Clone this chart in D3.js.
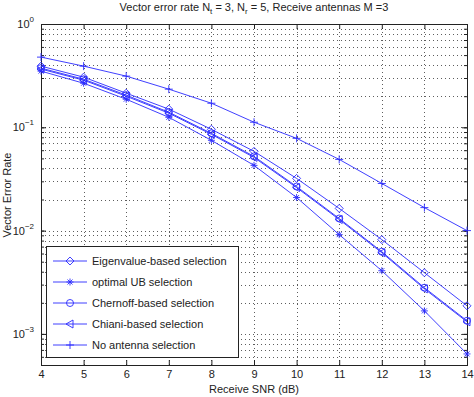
<!DOCTYPE html>
<html><head><meta charset="utf-8">
<script src="https://cdn.jsdelivr.net/npm/d3@7"></script>
<style>body{margin:0;background:#fff}svg{display:block}text{font-family:"Liberation Sans",Arial,sans-serif;fill:#222}</style>
</head><body><svg id="c" width="474" height="397"></svg>
<script>
const snr = [4,5,6,7,8,9,10,11,12,13,14];
const eigenvalue = [0.391,0.306,0.214,0.150,0.0957,0.0585,0.0320,0.0164,0.00818,0.00391,0.00187];
const optimalUB  = [0.350,0.267,0.187,0.125,0.0748,0.0428,0.0209,0.00914,0.00409,0.00167,0.00064];
const chernoff   = [0.374,0.292,0.205,0.140,0.0874,0.0523,0.0267,0.0131,0.00625,0.00280,0.00134];
const chiani     = [0.366,0.286,0.200,0.137,0.0855,0.0511,0.0261,0.0128,0.00611,0.00273,0.00131];
const noSel      = [0.478,0.391,0.313,0.234,0.171,0.112,0.0782,0.0489,0.0286,0.0167,0.0100];
const seriesNames = ["Eigenvalue-based selection","optimal UB selection","Chernoff-based selection","Chiani-based selection","No antenna selection"];
const markers = ["diamond","star","circle","triangle","plus"];
const xTicks = [4,5,6,7,8,9,10,11,12,13,14];
const yMajor = [1,0.1,0.01,0.001];

const series = [eigenvalue, optimalUB, chernoff, chiani, noSel];
const svg = d3.select("#c");
const L=41, R=467, T=24, B=365;
const x = d3.scaleLinear().domain([4,14]).range([L,R]);
const y = d3.scaleLog().domain([5e-4,1]).range([B,T]);
const blue = "#2a2aff";

const yMinor = [];
for (let e=-4; e<0; e++) for (let m=1; m<10; m++){const v=m*Math.pow(10,e); if(v>=5e-4 && v<=1) yMinor.push(v);}

const g = svg.append("g");
g.selectAll(".gy").data(yMinor).enter().append("line")
  .attr("x1",L).attr("x2",R).attr("y1",d=>Math.round(y(d))+0.5).attr("y2",d=>Math.round(y(d))+0.5)
  .attr("stroke","#333").attr("stroke-width",0.8).attr("stroke-dasharray","1,3");
g.selectAll(".gx").data(xTicks.slice(1,-1)).enter().append("line")
  .attr("y1",T).attr("y2",B).attr("x1",d=>Math.round(x(d))+0.5).attr("x2",d=>Math.round(x(d))+0.5)
  .attr("stroke","#333").attr("stroke-width",0.8).attr("stroke-dasharray","1,3");

const xb = d3.axisBottom(x).tickValues(xTicks).tickSize(-5).tickPadding(5).tickFormat(d3.format("d"));
const xt = d3.axisTop(x).tickValues(xTicks).tickSize(-5).tickFormat("");
const yl = d3.axisLeft(y).tickValues(yMajor).tickSize(-5).tickFormat("");
const yr = d3.axisRight(y).tickValues(yMajor).tickSize(-5).tickFormat("");
const ylm = d3.axisLeft(y).tickValues(yMinor).tickSize(-3).tickFormat("");
const yrm = d3.axisRight(y).tickValues(yMinor).tickSize(-3).tickFormat("");
function style(sel){sel.selectAll("path").attr("stroke","#222").attr("stroke-width",1);sel.selectAll("line").attr("stroke","#222");sel.selectAll("text").style("font-size","11px").attr("fill","#222");}
style(svg.append("g").attr("transform",`translate(0,${B})`).call(xb));
style(svg.append("g").attr("transform",`translate(0,${T})`).call(xt));
style(svg.append("g").attr("transform",`translate(${L},0)`).call(yl));
style(svg.append("g").attr("transform",`translate(${R},0)`).call(yr));
style(svg.append("g").attr("transform",`translate(${L},0)`).call(ylm));
style(svg.append("g").attr("transform",`translate(${R},0)`).call(yrm));

yMajor.forEach(v=>{
  const e=Math.round(Math.log10(v));
  const t=svg.append("text").attr("x",34).attr("y",y(v)+4).attr("text-anchor","end").style("font-size","11px");
  t.append("tspan").text("10");
  t.append("tspan").attr("dy",-6).style("font-size","8px").text(String(e).replace("-","\u2212"));
});

const line = d3.line().x((d,i)=>x(snr[i])).y(d=>y(d));
series.forEach(s=>{
  svg.append("path").datum(s).attr("d",line).attr("fill","none").attr("stroke",blue).attr("stroke-width",0.9);
});

function marker(sel, type, cx, cy){
  const gm = sel.append("g").attr("transform",`translate(${cx},${cy})`).attr("fill","none").attr("stroke",blue).attr("stroke-width",0.9);
  if(type==="diamond") gm.append("path").attr("d","M0,-4L4,0L0,4L-4,0Z");
  if(type==="circle") gm.append("circle").attr("r",3.5);
  if(type==="triangle") gm.append("path").attr("d","M-4,0L3,-4L3,4Z");
  if(type==="plus") gm.append("path").attr("d","M-4,0H4M0,-4V4");
  if(type==="star") gm.append("path").attr("d","M-3.5,0H3.5M0,-3.5V3.5M-2.5,-2.5L2.5,2.5M-2.5,2.5L2.5,-2.5");
}
series.forEach((s,k)=>{
  s.forEach((v,i)=>marker(svg, markers[k], x(snr[i]), y(v)));
});

const lg = svg.append("g");
lg.append("rect").attr("x",46.5).attr("y",246.5).attr("width",192).attr("height",111).attr("fill","#fff").attr("stroke","#222").attr("stroke-width",1);
seriesNames.forEach((n,k)=>{
  const ly = 261 + k*21;
  lg.append("line").attr("x1",53).attr("x2",87).attr("y1",ly).attr("y2",ly).attr("stroke",blue).attr("stroke-width",0.9);
  marker(lg, markers[k], 70, ly);
  lg.append("text").attr("x",92).attr("y",ly+4).style("font-size","11px").text(n);
});

const tt = svg.append("text").attr("x",254).attr("y",11).attr("text-anchor","middle").style("font-size","11px");
tt.append("tspan").text("Vector error rate N");
tt.append("tspan").attr("dy",3).style("font-size","8px").text("t");
tt.append("tspan").attr("dy",-3).text(" = 3, N");
tt.append("tspan").attr("dy",3).style("font-size","8px").text("r");
tt.append("tspan").attr("dy",-3).text(" = 5, Receive antennas M =3");
svg.append("text").attr("x",254).attr("y",393).attr("text-anchor","middle").style("font-size","11px").text("Receive SNR (dB)");
svg.append("text").attr("transform","translate(11,195) rotate(-90)").attr("text-anchor","middle").style("font-size","11px").text("Vector Error Rate");
</script></body></html>
